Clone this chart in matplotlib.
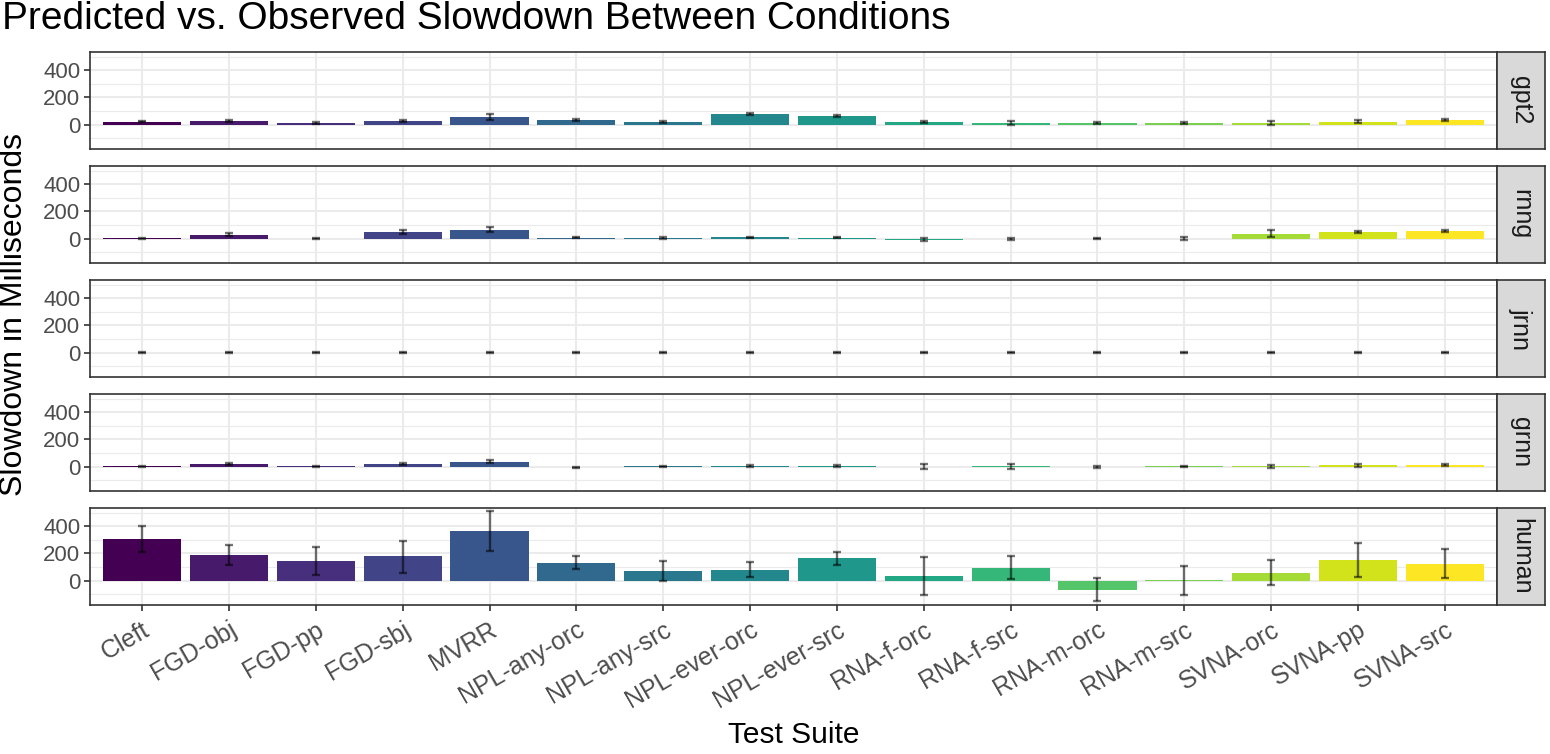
import numpy as np
import matplotlib
matplotlib.use("Agg")
import matplotlib.pyplot as plt

plt.rcParams['font.family'] = ['Liberation Sans', 'DejaVu Sans']

suites = ["Cleft", "FGD-obj", "FGD-pp", "FGD-sbj", "MVRR", "NPL-any-orc",
          "NPL-any-src", "NPL-ever-orc", "NPL-ever-src", "RNA-f-orc",
          "RNA-f-src", "RNA-m-orc", "RNA-m-src", "SVNA-orc", "SVNA-pp", "SVNA-src"]

models = ["gpt2", "rnng", "jrnn", "grnn", "human"]

# mean slowdown (ms) per suite, with half-width of the error bar
gpt2_mean = [22, 27, 12, 27, 55, 34, 19, 77, 63, 19, 12, 10, 10, 14, 22, 34]
gpt2_err = [6, 7, 6, 10, 22, 7, 7, 5, 6, 10, 14, 6, 6, 16, 10, 10]
rnng_mean = [1, 29, -2, 46, 66, 5, 2, 8, 7, -7, -3, -2, 0, 37, 51, 58]
rnng_err = [5, 9, 4, 14, 21, 4, 6, 6, 6, 14, 10, 4, 8, 25, 8, 8]
jrnn_mean = [0, 0, 0, 0, 0, 0, 0, 0, 0, 0, 0, 0, 0, 0, 0, 0]
jrnn_err = [2, 2, 2, 2, 2, 2, 2, 2, 2, 2, 2, 2, 2, 2, 2, 2]
grnn_mean = [2, 17, 1, 17, 35, -5, 2, 3, 3, -2, 2, -3, 3, 2, 8, 10]
grnn_err = [5, 7, 4, 7, 12, 4, 4, 6, 5, 18, 18, 4, 4, 10, 10, 8]
# human: mean plus lower / upper error bar ends
human_mean = [305, 188, 144, 180, 363, 129, 71, 78, 166, 34, 93, -66, 5, 56, 151, 122]
human_lo = [212, 117, 39, 58, 215, 83, 0, 24, 112, -107, 10, -149, -107, -34, 29, 17]
human_hi = [400, 261, 244, 295, 510, 180, 144, 137, 210, 176, 180, 20, 107, 151, 276, 232]

means = [gpt2_mean, rnng_mean, jrnn_mean, grnn_mean, human_mean]
lows = [np.array(m) - np.array(e) for m, e in
        [(gpt2_mean, gpt2_err), (rnng_mean, rnng_err), (jrnn_mean, jrnn_err), (grnn_mean, grnn_err)]]
highs = [np.array(m) + np.array(e) for m, e in
         [(gpt2_mean, gpt2_err), (rnng_mean, rnng_err), (jrnn_mean, jrnn_err), (grnn_mean, grnn_err)]]
lows.append(np.array(human_lo))
highs.append(np.array(human_hi))

W, H = 1550, 754
fig = plt.figure(figsize=(W / 100, H / 100), dpi=100)

colors = plt.cm.viridis(np.linspace(0, 1, len(suites)))
x = np.arange(1, len(suites) + 1)

left, right = 90, 1497
strip_w = 48
tops = [52, 166, 280, 394, 508]
ph = 97

def px(l, t, w, h):
    return [l / W, 1 - (t + h) / H, w / W, h / H]

for i, name in enumerate(models):
    ax = fig.add_axes(px(left, tops[i], right - left, ph))
    m = np.array(means[i])
    ax.bar(x, m, width=0.9, color=colors, zorder=2)
    yerr = np.vstack([m - lows[i], highs[i] - m])
    ax.errorbar(x, m, yerr=yerr, fmt='none', ecolor='black', alpha=0.55,
                elinewidth=1.7, capsize=3, capthick=1.7, zorder=3)
    ax.set_xlim(0.4, 16.6)
    ax.set_ylim(-180, 535)
    ax.set_yticks([0, 200, 400])
    ax.set_yticks([-100, 100, 300, 500], minor=True)
    ax.set_xticks(x)
    ax.grid(True, which='major', color='#EBEBEB', lw=1.5, zorder=0)
    ax.grid(True, which='minor', axis='y', color='#EBEBEB', lw=0.8, zorder=0)
    ax.set_axisbelow(True)
    for s in ax.spines.values():
        s.set_color('#333333')
        s.set_linewidth(1.2)
    ax.tick_params(axis='y', which='major', labelsize=16, colors='#333333',
                   labelcolor='#4D4D4D', length=4, width=1.2, pad=3)
    ax.tick_params(axis='y', which='minor', length=0)
    if i < len(models) - 1:
        ax.tick_params(axis='x', length=0, labelbottom=False)
    else:
        ax.tick_params(axis='x', colors='#333333', labelcolor='#4D4D4D',
                       length=4, width=1.2, labelsize=18, pad=5)
        ax.set_xticklabels(suites, rotation=30, ha='right', rotation_mode='anchor')
        ax.set_xlabel("Test Suite", fontsize=21.5, labelpad=6)

    sax = fig.add_axes(px(right, tops[i], strip_w, ph))
    sax.set_facecolor('#D9D9D9')
    sax.set_xticks([])
    sax.set_yticks([])
    for s in sax.spines.values():
        s.set_color('#333333')
        s.set_linewidth(1.2)
    sax.text(0.5, 0.5, name, rotation=-90, ha='center', va='center',
             fontsize=18, color='#1A1A1A', transform=sax.transAxes)

fig.text(2 / W, 1 - 19 / H, "Predicted vs. Observed Slowdown Between Conditions",
         fontsize=28, ha='left', va='center')
fig.text(14 / W, 1 - 315 / H, "Slowdown in Milliseconds", rotation=90,
         fontsize=23, ha='center', va='center')

fig.savefig("out.png", dpi=100)
